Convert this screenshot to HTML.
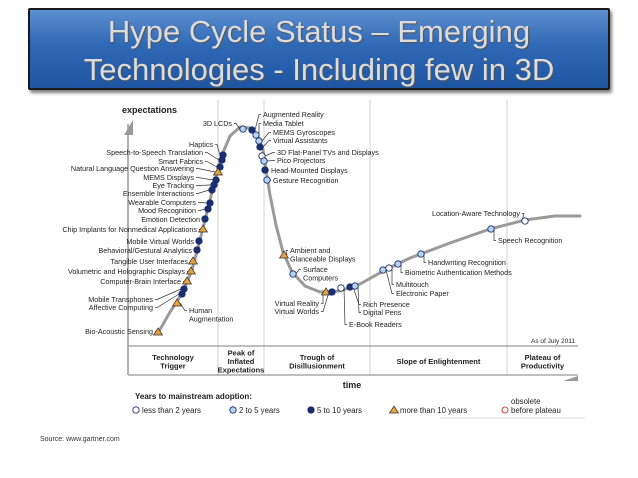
<!DOCTYPE html>
<html><head><meta charset="utf-8"><style>
html,body{margin:0;padding:0;background:#fff;width:638px;height:478px;overflow:hidden}
#title{position:absolute;left:28px;top:8px;width:582px;height:82px;border:2px solid #1a1a1a;border-radius:2px;
background:linear-gradient(#5d8fd0 0%,#2f68b5 45%,#1f56a3 100%);box-shadow:2px 3px 3px rgba(0,0,0,.5);
color:#dcdcdc;font-family:"Liberation Sans",sans-serif;font-size:31px;line-height:38px;text-align:center;padding-top:3px;box-sizing:border-box;text-shadow:1px 1px 1px #555}
svg{position:absolute;left:0;top:0}
text{font-family:"Liberation Sans",sans-serif}
</style></head><body>
<div id="title">Hype Cycle Status – Emerging<br>Technologies - Including few in 3D</div>
<svg id="chart" width="638" height="478"></svg>
<script>
// curve data (time units, expectation units)
const curveT=[30,42,50,57,64,72,79,87,94,102,112,122,129,135,138,142,148,155,164,177,192,212,232,257,282,322,362,397,427,452];
const curveE=[13,34,46,59,76,106,134,166,191,210,219,218,212,196,176,151,121,94,74,60,54,55,62,76,88,103,117,126,130,130];
// technologies
const techNames=["Haptics","Speech-to-Speech Translation","Smart Fabrics","Natural Language Question Answering","MEMS Displays","Eye Tracking","Ensemble Interactions","Wearable Computers","Mood Recognition","Emotion Detection","Chip Implants for Nonmedical Applications","Mobile Virtual Worlds","Behavioral/Gestural Analytics","Tangible User Interfaces","Volumetric and Holographic Displays","Computer-Brain Interface","Mobile Transphones","Affective Computing","Human|Augmentation","Bio-Acoustic Sensing",
"3D LCDs","Augmented Reality","Media Tablet","MEMS Gyroscopes","Virtual Assistants","3D Flat-Panel TVs and Displays","Pico Projectors","Head-Mounted Displays","Gesture Recognition","Ambient and|Glanceable Displays","Surface|Computers","Virtual Reality","Virtual Worlds","E-Book Readers","Rich Presence","Digital Pens","Electronic Paper","Multitouch","Biometric Authentication Methods","Handwriting Recognition","Speech Recognition","Location-Aware Technology"];
const techT=[95,94,92,90,88,86,84,82,80,77,75,71,69,65,63,59,56,54,49,30, 115,124,128,131,132,134,136,137,139,156,165,198,204,213,222,227,255,261,270,293,363,397];
const techE=[191,186,179,174,166,161,156,143,137,127,117,105,96,85,75,65,57,52,43,14, 217,216,211,205,199,190,185,176,166,91,72,54,54,58,59,60,76,78,82,92,117,125];
// adoption: 0 <2y, 1 2-5y, 2 5-10y, 3 >10y
const techYears=[2,2,2,3,2,2,2,2,2,2,3,2,2,3,3,3,2,2,3,3, 1,2,1,1,2,0,1,2,1,3,1,3,2,0,2,1,1,0,1,1,1,0];
// label layout [x, y, anchor]
const labelPos=[[213,147,"e"],[203,155,"e"],[203,164,"e"],[194,171,"e"],[194,180,"e"],[194,188,"e"],[194,196,"e"],[196,205,"e"],[196,213,"e"],[200,222,"e"],[197,232,"e"],[194,244,"e"],[192,253,"e"],[188,264,"e"],[185,274,"e"],[181,284,"e"],[153,302,"e"],[153,310,"e"],[189,313,"s"],[153,334,"e"],
[232,126,"e"],[263,117,"s"],[263,126,"s"],[273,135,"s"],[273,143,"s"],[277,155,"s"],[277,163,"s"],[271,173,"s"],[273,183,"s"],[290,253,"s"],[303,272,"s"],[319,306,"e"],[319,314,"e"],[349,327,"s"],[363,307,"s"],[363,315,"s"],[396,296,"s"],[396,287,"s"],[405,275,"s"],[428,265,"s"],[498,243,"s"],[520,216,"e"]];
const phaseNames=[["Technology","Trigger"],["Peak of","Inflated","Expectations"],["Trough of","Disillusionment"],["Slope of Enlightenment"],["Plateau of","Productivity"]];
const phaseBounds=[0,90,136,242,379,450];

const svg=document.getElementById('chart');const NS='http://www.w3.org/2000/svg';
const X0=128,Y0=346;
const xs=t=>X0+t, ys=e=>Y0-e;
function mk(tag,at,parent){const el=document.createElementNS(NS,tag);for(const k in at)el.setAttribute(k,at[k]);(parent||svg).appendChild(el);return el;}
function txt(x,y,s,size,anchor,weight,fill){const t=mk('text',{x:x,y:y,'font-size':size,'text-anchor':anchor||'start','font-weight':weight||'normal',fill:fill||'#222'});t.textContent=s;return t;}
// dividers
for(let i=1;i<phaseBounds.length-1;i++){const l=mk('line',{x1:xs(phaseBounds[i]),x2:xs(phaseBounds[i]),y1:100,y2:375,stroke:'#d0d0d0','stroke-width':1});
}
// axes
let a=mk('line',{x1:X0,y1:124,x2:X0,y2:375,stroke:'#999','stroke-width':1.5});
a=mk('polygon',{points:'124,135 133,120 133,135',fill:'#999'});
a=mk('line',{x1:X0,y1:Y0,x2:578,y2:Y0,stroke:'#999','stroke-width':1.2});
a=mk('line',{x1:X0,y1:375,x2:578,y2:375,stroke:'#999','stroke-width':1.2});
a=mk('polygon',{points:'563,381 578,376 578,381',fill:'#999'});
a=txt(122,113,'expectations',9,'start','bold');
a=txt(352,388,'time',9,'middle','bold');
a=txt(575,343,'As of July 2011',6.5,'end');
// phases
phaseNames.forEach((p,i)=>{const cx=xs((phaseBounds[i]+phaseBounds[i+1])/2);const n=p.length;const lh=8.5;const y0=362-(n-1)*lh/2+2;
p.forEach((s,j)=>{const t=txt(cx,y0+j*lh,s,7.5,'middle','bold');});});
// curve
let d='';curveT.forEach((t,i)=>{d+=(i?' L':'M')+xs(t)+' '+ys(curveE[i]);});
a=mk('path',{d:d,fill:'none',stroke:'#9a9a9a','stroke-width':3,'stroke-linejoin':'round','stroke-linecap':'round'});
// markers
function marker(x,y,type,parent){let m;
if(type===3){m=mk('polygon',{points:`${x},${y-4} ${x+4.5},${y+3} ${x-4.5},${y+3}`,fill:'#e8a33c',stroke:'#333','stroke-width':0.7},parent);}
else{const fills=['#ffffff','#b5d3ef','#1b2f6e'];m=mk('circle',{cx:x,cy:y,r:3.2,fill:fills[type],stroke:'#1b2f6e','stroke-width':0.9},parent);}
return m;}
techNames.forEach((n,i)=>{const g=mk('g',{});
const mx=xs(techT[i]),my=ys(techE[i]);const [lx,ly,an]=labelPos[i];
const ex=an==='e'?lx+2:lx-2;
mk('polyline',{points:`${ex},${ly-2.5} ${ex+(an==='e'?2:-2)},${ly-2.5} ${mx+(an==='e'?-3:3)},${my}`,fill:'none',stroke:'#333','stroke-width':0.7},g);
const parts=n.split('|');parts.forEach((s,j)=>{const t=txt(lx,ly+j*8.5,s,7.2,an==='e'?'end':'start');g.appendChild(t);});
const m=marker(mx,my,techYears[i],g);});
// legend
a=txt(135,399,'Years to mainstream adoption:',8,'start','bold');
const legItems=[['less than 2 years',0,136],['2 to 5 years',1,233],['5 to 10 years',2,311],['more than 10 years',3,394]];
legItems.forEach(([s,ty,x])=>{const g=mk('g',{});marker(x,410,ty,g);g.appendChild(txt(x+6,413,s,7.8));});
let g=mk('g',{});
mk('circle',{cx:505,cy:410,r:3,fill:'#fff',stroke:'#d44','stroke-width':1},g);
g.appendChild(txt(511,404,'obsolete',7.8));g.appendChild(txt(511,413,'before plateau',7.8));
a=mk('line',{x1:440,y1:418,x2:585,y2:418,stroke:'#ddd','stroke-width':1});
a=txt(40,441,'Source: www.gartner.com',7,'start','normal','#333');
</script>
</body></html>
